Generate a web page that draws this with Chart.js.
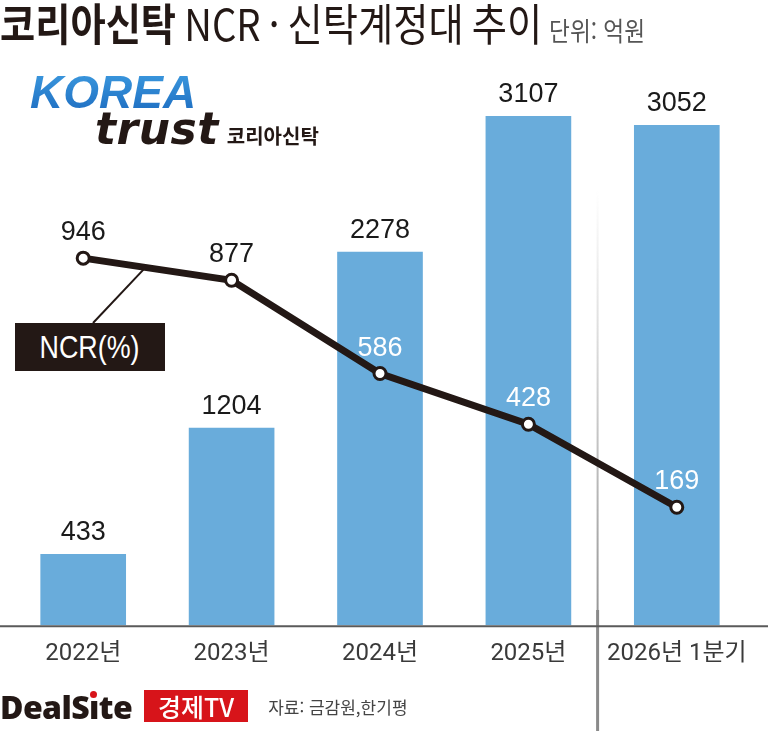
<!DOCTYPE html>
<html lang="ko">
<head>
<meta charset="utf-8">
<script src="https://cdn.jsdelivr.net/npm/chart.js@4.4.1/dist/chart.umd.min.js"></script>
<style>
  html,body{margin:0;padding:0;background:#fff;}
  body{width:768px;height:731px;position:relative;overflow:hidden;font-family:"Noto Sans CJK KR",sans-serif;}
  #c{position:absolute;left:0;top:0;}
  .abs{position:absolute;white-space:nowrap;z-index:2;}
  #title{left:0;top:-8px;font-size:44px;line-height:60px;color:#231815;transform:scaleX(0.87);transform-origin:0 0;word-spacing:-3px;}
  #title b{font-weight:700;}
  #title .unit{font-size:26px;color:#555;margin-left:8px;word-spacing:0;}
  #korea{left:30px;top:69px;font:italic 700 46px "Liberation Sans",Arial,sans-serif;line-height:46px;
    background:linear-gradient(180deg,#3d9be0 0%,#1d6cc0 100%);-webkit-background-clip:text;background-clip:text;color:transparent;}
  #trust{left:95px;top:103px;line-height:52px;color:#231815;}
  #trust .t{font:italic 700 44px "DejaVu Sans",sans-serif;letter-spacing:0.5px;}
  #trust .k{font-size:20px;font-weight:700;margin-left:8px;}
  #ncrbox{left:15px;top:323px;width:150px;height:48px;background:#231815;color:#fff;
    font:32px "Liberation Sans",sans-serif;line-height:48px;text-align:center;}
  #ncrbox span{display:inline-block;transform:scaleX(0.84);}
  #foot{left:0;top:688px;height:36px;display:flex;align-items:center;}
  #foot .ds{font:800 32px "Open Sans",sans-serif;color:#231815;letter-spacing:-0.6px;}
  #foot .idot{position:relative;}
  #foot .idot::after{content:"";position:absolute;left:50%;top:6px;width:7px;height:7px;margin-left:-3.5px;border-radius:50%;background:#d7141a;}
  #foot .tv{margin-left:12px;width:104px;height:32px;background:#d7141a;color:#fff;font-size:25px;line-height:32px;text-align:center;font-weight:500;}
  #foot .src{margin-left:20px;font-size:17px;color:#444;}
</style>
</head>
<body>
<canvas id="c" width="768" height="731"></canvas>

<div class="abs" id="title"><b>코리아신탁</b> NCR · 신탁계정대 추이<span class="unit">단위: 억원</span></div>
<div class="abs" id="korea">KOREA</div>
<div class="abs" id="trust"><span class="t">trust</span><span class="k">코리아신탁</span></div>
<div class="abs" id="ncrbox"><span>NCR(%)</span></div>
<div class="abs" id="foot"><span class="ds">DealS<span class="idot">ı</span>te</span><span class="tv">경제TV</span><span class="src">자료: 금감원,한기평</span></div>

<script>
// 데이터 (억원 / %)
const categories = ['2022년', '2023년', '2024년', '2025년', '2026년 1분기'];
const trustAccount = [433, 1204, 2278, 3107, 3052];   // 신탁계정대, 억원
const ncr = [946, 877, 586, 428, 169];                // NCR, %

const INK = '#231815';
const BAR = '#69acdb';
const NUM_FONT = '27px "Liberation Sans", Arial, sans-serif';

// 값 라벨 (막대 위 / 선 위)
const valueLabels = {
  id: 'valueLabels',
  afterDatasetsDraw(chart){
    const ctx = chart.ctx;
    const lineMeta = chart.getDatasetMeta(0);
    const barMeta = chart.getDatasetMeta(1);
    ctx.save();
    ctx.font = NUM_FONT;
    ctx.textAlign = 'center';
    ctx.textBaseline = 'alphabetic';
    barMeta.data.forEach((bar, i) => {
      ctx.fillStyle = '#1a1a1a';
      ctx.fillText(String(trustAccount[i]), bar.x, bar.y - 14);
    });
    lineMeta.data.forEach((pt, i) => {
      const ly = pt.y - 18;
      // 막대 안에 들어가면 흰 글씨
      ctx.fillStyle = (ly - 10 > barMeta.data[i].y) ? '#fff' : '#1a1a1a';
      ctx.fillText(String(ncr[i]), pt.x, ly);
    });
    ctx.restore();
  }
};

// 바닥선, 구분선, 범례 연결선
const decor = {
  id: 'decor',
  beforeDatasetsDraw(chart){
    const ctx = chart.ctx;
    const x = chart.scales.x;
    const xs = (x.getPixelForValue(3) + x.getPixelForValue(4)) / 2 - 5;
    ctx.save();
    const g = ctx.createLinearGradient(0, 190, 0, 610);
    g.addColorStop(0, 'rgba(150,150,150,0)');
    g.addColorStop(1, 'rgba(140,140,140,0.9)');
    ctx.strokeStyle = g;
    ctx.lineWidth = 2;
    ctx.beginPath(); ctx.moveTo(xs, 190); ctx.lineTo(xs, 610); ctx.stroke();
    ctx.strokeStyle = '#8a8a8a';
    ctx.lineWidth = 3;
    ctx.beginPath(); ctx.moveTo(xs, 610); ctx.lineTo(xs, chart.height); ctx.stroke();

    // 범례 박스 → 선 연결
    const pts = chart.getDatasetMeta(0).data;
    const t = 0.42;
    ctx.strokeStyle = INK;
    ctx.lineWidth = 2;
    ctx.beginPath();
    ctx.moveTo(93, 323);
    ctx.lineTo(pts[0].x + t * (pts[1].x - pts[0].x), pts[0].y + t * (pts[1].y - pts[0].y));
    ctx.stroke();
    ctx.restore();
  },
  afterDatasetsDraw(chart){
    const ctx = chart.ctx;
    const y0 = chart.scales.y.getPixelForValue(0);
    ctx.save();
    ctx.strokeStyle = '#5a5a5a';
    ctx.lineWidth = 2;
    ctx.beginPath(); ctx.moveTo(0, y0 + 1); ctx.lineTo(chart.width, y0 + 1); ctx.stroke();
    ctx.restore();
  }
};

new Chart(document.getElementById('c').getContext('2d'), {
  data: {
    labels: categories,
    datasets: [
      {
        type: 'line', label: 'NCR(%)', data: ncr, yAxisID: 'y2', order: 0,
        borderColor: INK, borderWidth: 7, tension: 0,
        pointRadius: 6, pointBorderWidth: 3, pointBackgroundColor: '#fff', pointBorderColor: INK
      },
      {
        type: 'bar', label: '신탁계정대(억원)', data: trustAccount, yAxisID: 'y', order: 1,
        backgroundColor: BAR, barThickness: 85, borderWidth: 0
      }
    ]
  },
  options: {
    responsive: false, animation: false, events: [],
    layout: { padding: { left: 0, right: 17, top: 52, bottom: 49 } },
    plugins: { legend: { display: false }, tooltip: { enabled: false } },
    scales: {
      x: {
        type: 'category', offset: true,
        grid: { display: false, drawTicks: false }, border: { display: false },
        ticks: {
          padding: 14, color: '#3a3a3a', autoSkip: false, maxRotation: 0, minRotation: 0,
          font: { family: 'Roboto, "Noto Sans CJK KR", sans-serif', size: 24 }
        }
      },
      y: { display: false, min: 0, max: 3500 },
      y2: { display: false, min: -199, max: 1589 }
    }
  },
  plugins: [decor, valueLabels]
});
</script>
</body>
</html>
